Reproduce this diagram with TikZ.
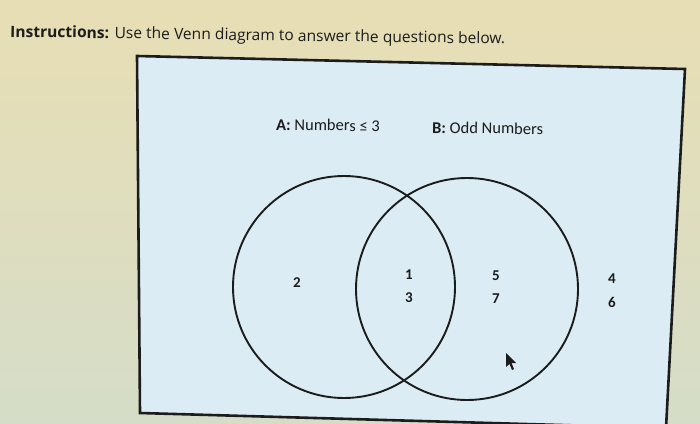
\documentclass[tikz,border=0pt]{standalone}
\usepackage{fontspec}
\setmainfont{Liberation Sans}
\newfontfamily\instrfont{Open Sans}
\newfontfamily\labfont{Carlito}
\definecolor{bgtop}{HTML}{E8DEB4}
\definecolor{bgbot}{HTML}{D5DDC8}
\definecolor{boxfill}{HTML}{DCECF4}
\definecolor{inkc}{HTML}{1C1C1C}
\tikzset{
  boxline/.style={draw=inkc, line width=2.6pt, line join=miter},
  venn/.style={draw=inkc, line width=1.9pt, circle, minimum size=222pt, inner sep=0pt},
  num/.style={font=\labfont\bfseries\fontsize{15}{17}\selectfont, text=inkc, inner sep=0pt},
  setlab/.style={font=\labfont\fontsize{16.5}{18}\selectfont, text=inkc, anchor=base west, inner sep=0pt, rotate=-0.8},
  instr/.style={font=\instrfont\fontsize{15.6}{18}\selectfont, text=inkc, anchor=base west, inner sep=0pt, rotate=-0.8}
}
\begin{document}
\begin{tikzpicture}[x=1pt,y=-1pt]
\useasboundingbox (0,0) rectangle (700,423);
\shade[top color=bgtop, bottom color=bgbot] (0,0) rectangle (700,423);
\coordinate (c1) at (137,56);
\coordinate (c2) at (685,69);
\coordinate (c3) at (666,428);
\coordinate (c4) at (140,413);
\draw[boxline, fill=boxfill] (c1) -- (c2) -- (c3) -- (c4) -- cycle;
\node[instr] (title) at (10,37) {\bfseries Instructions:\mdseries{} Use the Venn diagram to answer the questions below.};
\node[setlab] (la) at (276,130) {\textbf{A:} Numbers ≤ 3};
\node[setlab] (lb) at (432,133) {\textbf{B:} Odd Numbers};
\node[venn] (A) at (344,287) {};
\node[venn] (B) at (467,289) {};
\node[num] (n2) at (297,283) {2};
\node[num] (n1) at (409,275) {1};
\node[num] (n3) at (409,298) {3};
\node[num] (n5) at (496,276) {5};
\node[num] (n7) at (496,299) {7};
\node[num] (n4) at (612,279) {4};
\node[num] (n6) at (612,302) {6};
\fill[inkc] (506,353) -- (506,367) -- (509.5,364) -- (512,370) -- (514,369) -- (511.5,363) -- (516,363) -- cycle;
\end{tikzpicture}
\end{document}
